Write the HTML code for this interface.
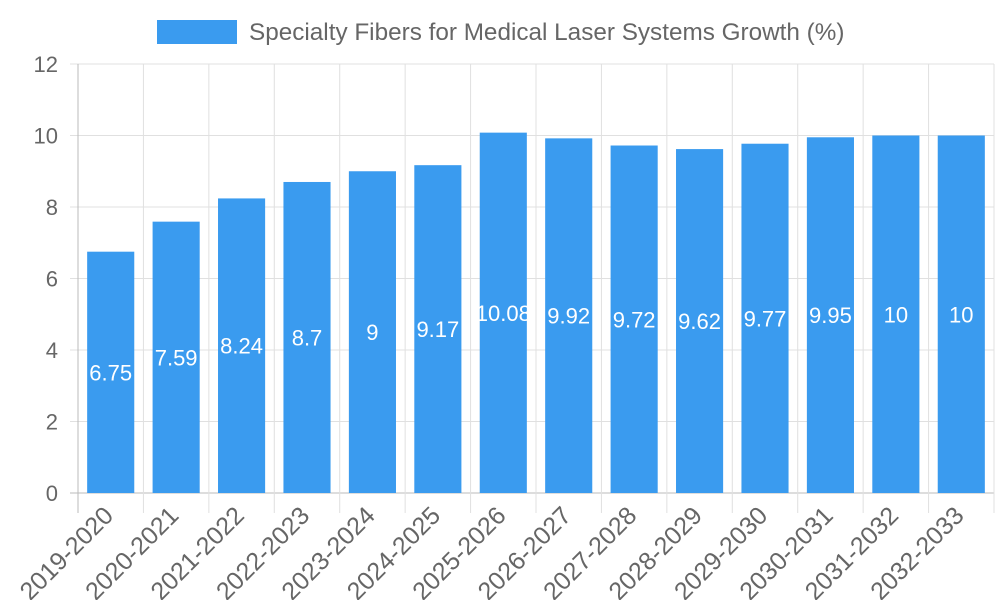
<!DOCTYPE html>
<html><head><meta charset="utf-8"><style>
body{margin:0;background:#fff;}
svg{display:block;font-family:"Liberation Sans",sans-serif;}
</style></head><body>
<svg id="chart" width="1000" height="600">
<g>
<rect x="157" y="20" width="80" height="24" fill="#3a9bef"/>
<text x="249" y="40" font-size="24.3" fill="#666">Specialty Fibers for Medical Laser Systems Growth (%)</text>
</g>
<g id="grid"></g><g id="bars"></g><g id="axes"></g>
</svg>
<script>
const categories=["2019-2020","2020-2021","2021-2022","2022-2023","2023-2024","2024-2025","2025-2026","2026-2027","2027-2028","2028-2029","2029-2030","2030-2031","2031-2032","2032-2033"];
const values=[6.75,7.59,8.24,8.7,9,9.17,10.08,9.92,9.72,9.62,9.77,9.95,10,10];
const yTicks=[0,2,4,6,8,10,12];
const NS="http://www.w3.org/2000/svg";
const L=78,R=994,T=64,B=493,yMax=12;
const bw=(R-L)/categories.length;
const y=v=>B-(v/yMax)*(B-T);
const x=i=>L+i*bw;
function mk(t,a,p){const e=document.createElementNS(NS,t);for(const k in a)e.setAttribute(k,a[k]);p.appendChild(e);return e;}
const grid=document.getElementById('grid'),bars=document.getElementById('bars'),axes=document.getElementById('axes');
yTicks.forEach(v=>{
const g=mk('line',{x1:L-8,x2:R,y1:y(v),y2:y(v),stroke:v===0?'#bbb':'#e0e0e0','stroke-width':1},grid);


const t=mk('text',{x:L-20,y:y(v)+8,'text-anchor':'end','font-size':22,fill:'#666'},axes);
t.textContent=v;


});
for(let i=0;i<=categories.length;i++){
const g=mk('line',{x1:x(i),x2:x(i),y1:T,y2:B+20,stroke:i===0?'#bbb':'#e0e0e0','stroke-width':1},grid);


}
categories.forEach((c,i)=>{
const cx=x(i)+bw/2,w=bw*0.72;
const r=mk('rect',{x:cx-w/2,y:y(values[i]),width:w,height:B-y(values[i]),fill:'#3a9bef'},bars);


const lv=mk('text',{x:cx,y:(y(values[i])+B)/2+8,'text-anchor':'middle','font-size':22,fill:'#fff'},bars);
lv.textContent=values[i];


const tl=mk('text',{x:cx+4,y:B+24,'text-anchor':'end','font-size':25,fill:'#666',transform:`rotate(-45 ${cx+4} ${B+24})`},axes);
tl.textContent=c;


});
</script>
</body></html>
